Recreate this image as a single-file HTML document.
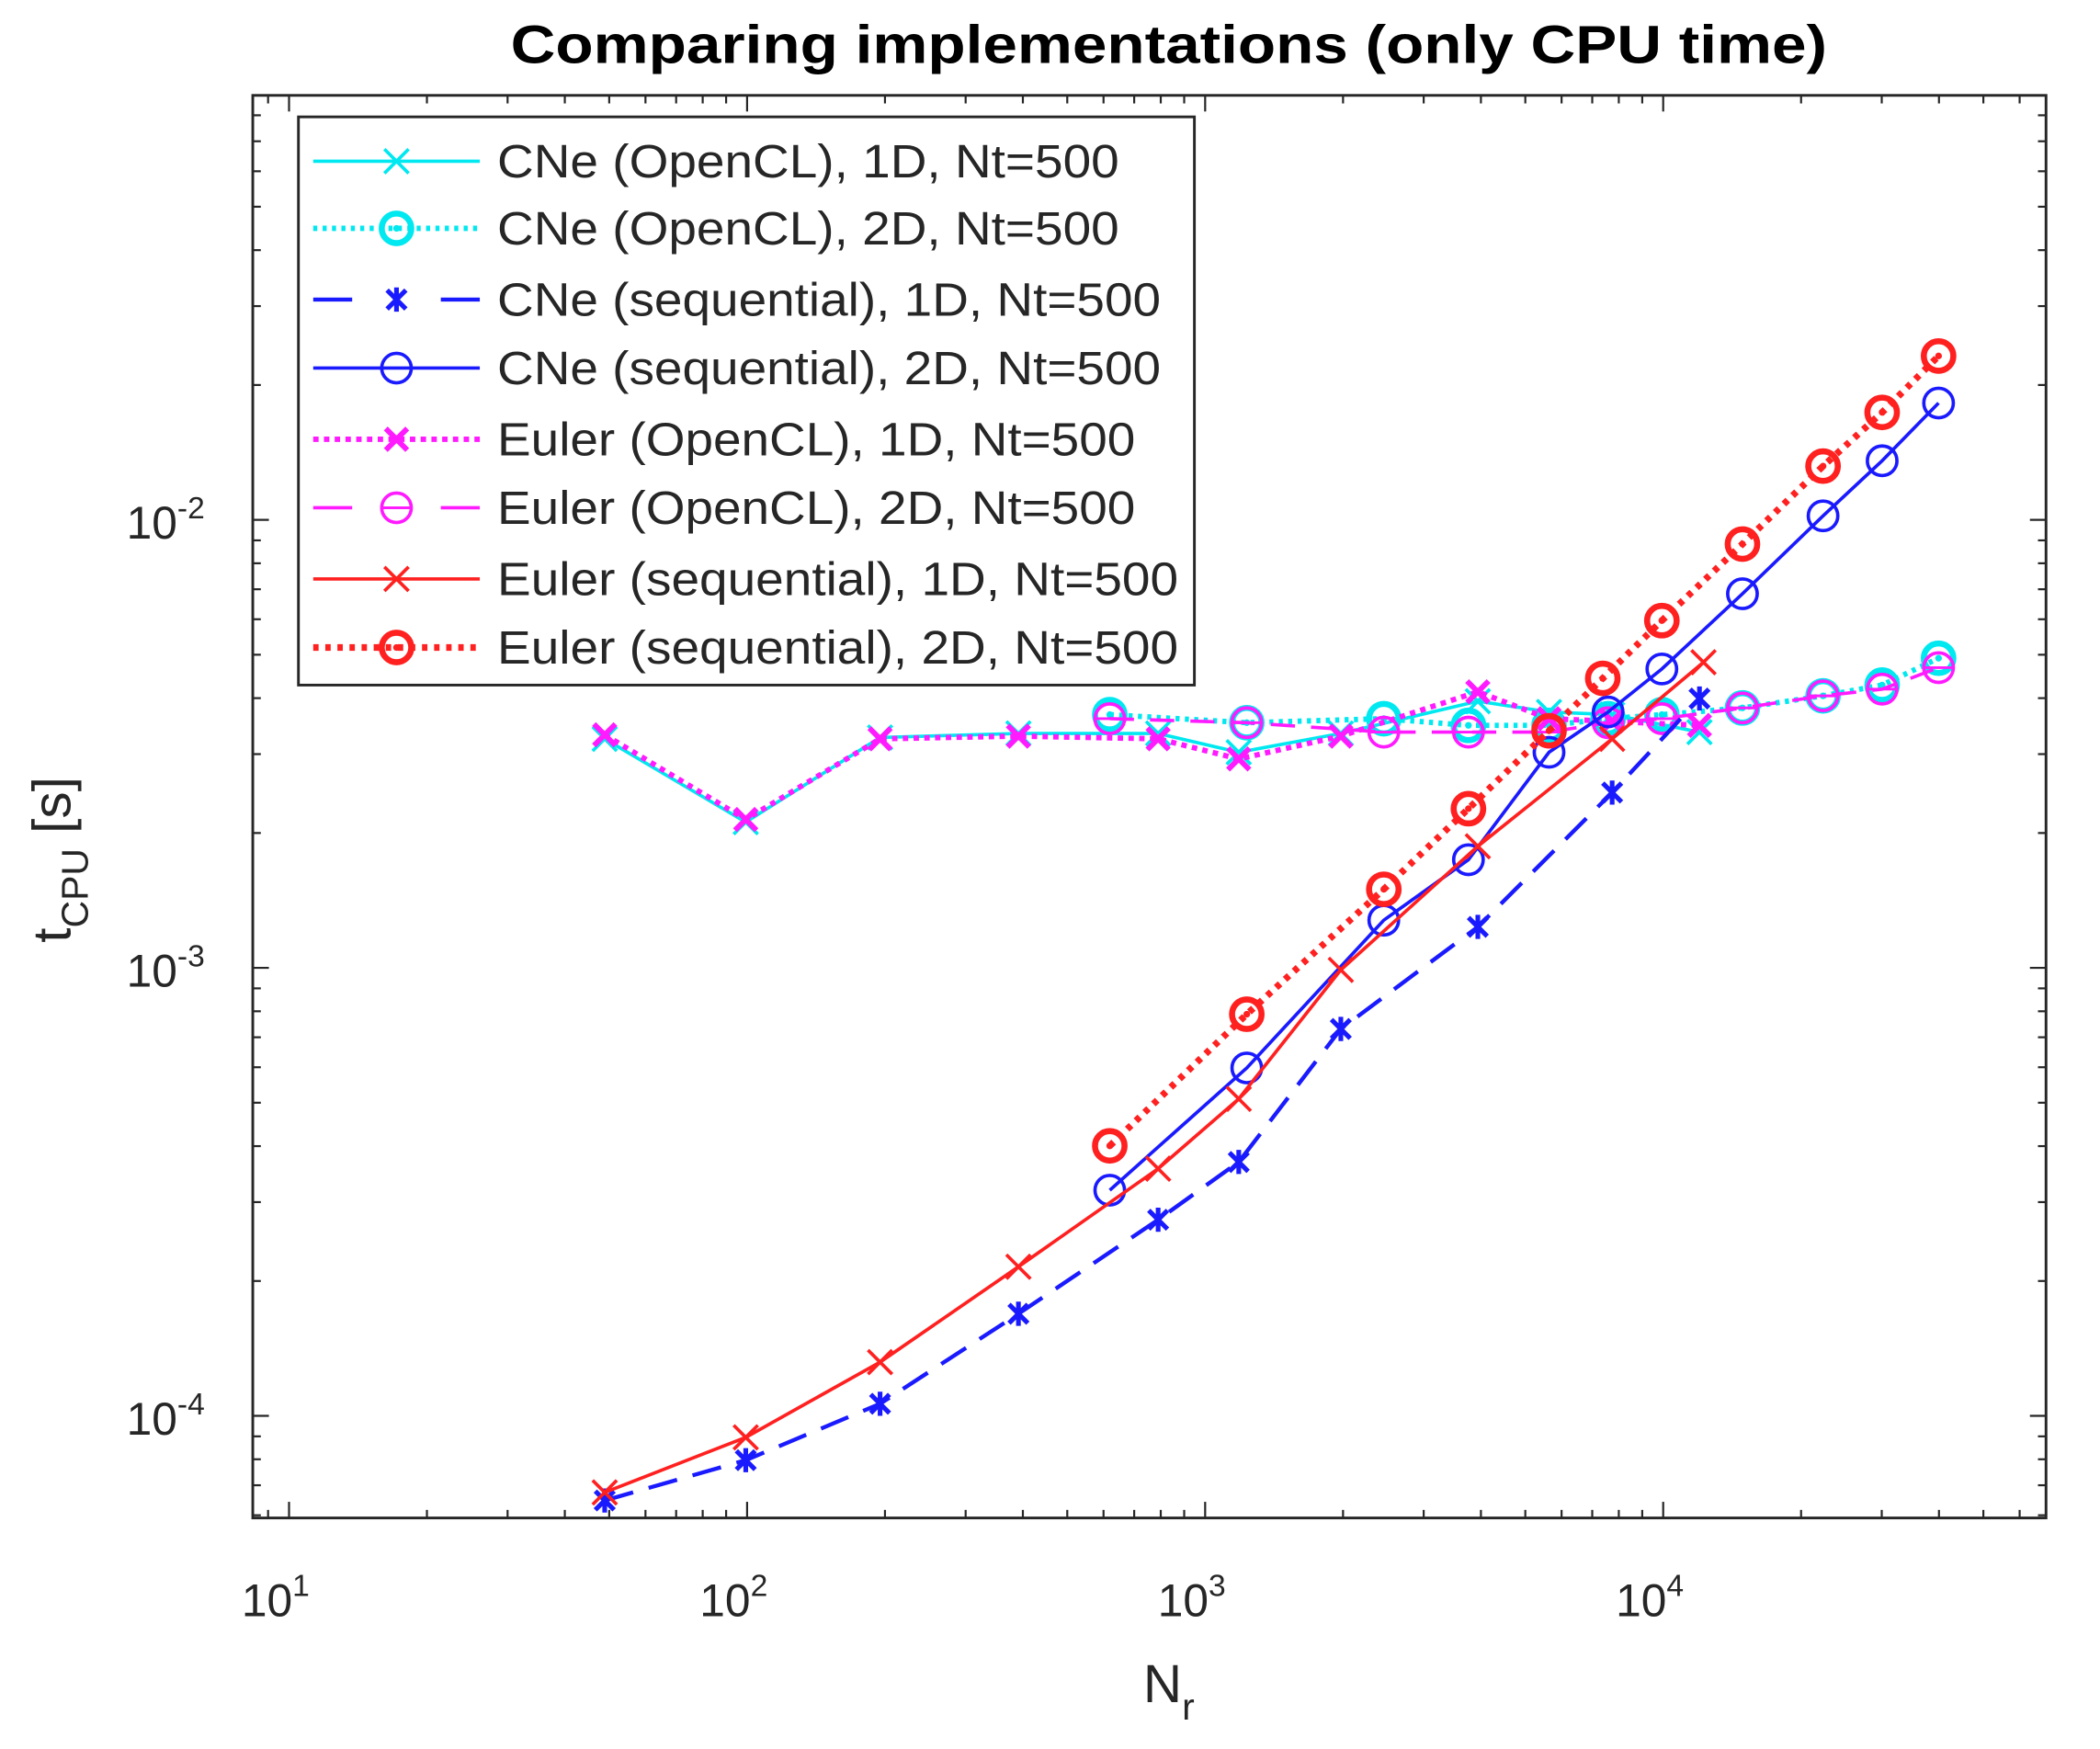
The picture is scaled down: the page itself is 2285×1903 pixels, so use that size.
<!DOCTYPE html>
<html><head><meta charset="utf-8"><style>
html,body{margin:0;padding:0;background:#fff;}
svg{display:block;font-family:"Liberation Sans",Arial,sans-serif;}
</style></head><body>
<svg id="s" width="2285" height="1903" viewBox="0 0 1563 1302" xmlns="http://www.w3.org/2000/svg">
<rect width="1563" height="1302" fill="#fff"/>
<text x="870" y="47" font-size="40" font-weight="bold" text-anchor="middle" textLength="980" lengthAdjust="spacingAndGlyphs" fill="#000">Comparing implementations (only CPU time)</text>
<rect x="188" y="71" width="1335" height="1059" fill="none" stroke="#262626" stroke-width="2"/>
<g id="ticks" stroke="#262626" stroke-width="1.5"></g>
<g id="labels" font-size="34" fill="#262626"></g>
<g id="series"></g>
<text x="870" y="1267" font-size="40" text-anchor="middle" fill="#262626">N<tspan font-size="28" dy="13">r</tspan></text>
<text transform="translate(52,640) rotate(-90)" font-size="40" text-anchor="middle" fill="#262626">t<tspan font-size="28" dy="13">CPU</tspan><tspan dy="-13"> [s]</tspan></text>
<g id="legend"></g>
</svg>
<script>
const NS="http://www.w3.org/2000/svg";
function el(p,t,a){const e=document.createElementNS(NS,t);for(const k in a)e.setAttribute(k,a[k]);p.appendChild(e);return e;}
const L=188,R=1523,T=71,B=1130;
const X=lx=>215+(lx-1)*341, Y=ly=>387-(ly+2)*333.5;
const tk=document.getElementById('ticks'), lb=document.getElementById('labels');
for(let d=0;d<=4;d++){for(let m=1;m<10;m++){const lx=d+Math.log10(m);const x=X(lx);if(x<L||x>R)continue;const len=m==1?12:6;
el(tk,'line',{x1:x,y1:B,x2:x,y2:B-len});el(tk,'line',{x1:x,y1:T,x2:x,y2:T+len});}}
for(let d=1;d<=4;d++){const t=el(lb,'text',{x:X(d)-10,y:1203,'text-anchor':'middle'});t.textContent='10';const s=el(t,'tspan',{'font-size':23,dy:-15});s.textContent=d;}
for(let d=-5;d<=-1;d++){for(let m=1;m<10;m++){const ly=d+Math.log10(m);const y=Y(ly);if(y<T||y>B)continue;const len=m==1?12:6;
el(tk,'line',{x1:L,y1:y,x2:L+len,y2:y});el(tk,'line',{x1:R,y1:y,x2:R-len,y2:y});}}
for(let d=-4;d<=-2;d++){const t=el(lb,'text',{x:94,y:Y(d)+14,'text-anchor':'start'});t.textContent='10';const s=el(t,'tspan',{'font-size':23,dy:-15});s.textContent=d;}
const C={cy:'#00e8f0',bl:'#1a1aff',mg:'#ff1aff',rd:'#ff2020'};
const S=[
{c:C.cy,d:'',w:2.5,m:'x',p:[[450,550],[555,612],[655,549],[758,546],[862,546],[922,560],[998,546],[1100,522],[1153,530],[1200,532],[1265,545]]},
{c:C.cy,d:'3 4',w:4,m:'oo',p:[[826,532],[928,538],[1030,535],[1093,540],[1153,540],[1197,535],[1237,532],[1297,527],[1357,518],[1401,510],[1443,490]]},
{c:C.mg,d:'4 4',w:4,m:'xx',p:[[450,547],[555,610],[655,550],[758,548],[862,550],[922,565],[998,548],[1100,515],[1153,535],[1200,537],[1265,540]]},
{c:C.mg,d:'18 12',w:2.5,m:'oh',p:[[826,535],[928,538],[1030,545],[1093,545],[1153,545],[1197,538],[1237,535],[1297,527],[1357,518],[1401,513],[1443,497]]},
{c:C.bl,d:'22 12',w:3,m:'*',p:[[450,1117],[555,1087],[655,1045],[758,978],[862,908],[922,865],[998,766],[1100,690],[1200,590],[1265,520]]},
{c:C.bl,d:'',w:2.5,m:'o',p:[[826,886],[928,795],[1030,685],[1093,640],[1153,560],[1197,530],[1237,498],[1297,442],[1357,384],[1401,343],[1443,300]]},
{c:C.rd,d:'',w:2.5,m:'x',p:[[450,1111],[555,1070],[655,1014],[758,943],[862,870],[922,818],[998,722],[1100,630],[1200,550],[1268,493]]},
{c:C.rd,d:'4 5',w:5,m:'oo',p:[[826,853],[928,755],[1030,662],[1093,602],[1153,544],[1193,505],[1237,462],[1297,405],[1357,347],[1401,307],[1443,265]]}
];
function marker(g,m,x,y,c){
 if(m=='x'||m=='xx'){const r=m=='xx'?8:9,w=m=='xx'?4:2.5;el(g,'path',{d:`M${x-r} ${y-r}L${x+r} ${y+r}M${x-r} ${y+r}L${x+r} ${y-r}`,stroke:c,'stroke-width':w,fill:'none'});}
 else if(m=='*'){el(g,'path',{d:`M${x-7} ${y-7}L${x+7} ${y+7}M${x-7} ${y+7}L${x+7} ${y-7}M${x} ${y-9}L${x} ${y+9}`,stroke:c,'stroke-width':3.5,fill:'none'});}
 else if(m=='o'){el(g,'circle',{cx:x,cy:y,r:11,stroke:c,'stroke-width':2.5,fill:'none'});}
 else if(m=='oh'){el(g,'circle',{cx:x,cy:y,r:11,stroke:c,'stroke-width':2.5,fill:'none'});el(g,'line',{x1:x-11,y1:y,x2:x+11,y2:y,stroke:c,'stroke-width':2});}
 else if(m=='oo'){el(g,'circle',{cx:x,cy:y,r:11,stroke:c,'stroke-width':4.5,fill:'none'});el(g,'circle',{cx:x,cy:y,r:2.5,fill:c});}
}
const sg=document.getElementById('series');
for(const s of S){el(sg,'polyline',{points:s.p.map(q=>q.join(',')).join(' '),fill:'none',stroke:s.c,'stroke-width':s.w,'stroke-dasharray':s.d||'none'});
 for(const q of s.p)marker(sg,s.m,q[0],q[1],s.c);}
const lg=document.getElementById('legend');
el(lg,'rect',{x:222,y:87,width:667,height:423,fill:'#fff',stroke:'#262626','stroke-width':2});
const LI=[[0,'CNe (OpenCL), 1D, Nt=500',463],[1,'CNe (OpenCL), 2D, Nt=500',463],[4,'CNe (sequential), 1D, Nt=500',494],[5,'CNe (sequential), 2D, Nt=500',494],[2,'Euler (OpenCL), 1D, Nt=500',475],[3,'Euler (OpenCL), 2D, Nt=500',475],[6,'Euler (sequential), 1D, Nt=500',507],[7,'Euler (sequential), 2D, Nt=500',507]];
const ry=[120,170,223,274,327,378,431,482];
LI.forEach((it,i)=>{const s=S[it[0]];const y=ry[i];
 if(s.d=='22 12'||s.d=='18 12'){
  el(lg,'line',{x1:233,y1:y,x2:262,y2:y,stroke:s.c,'stroke-width':s.w});
  el(lg,'line',{x1:328,y1:y,x2:357,y2:y,stroke:s.c,'stroke-width':s.w});
 } else el(lg,'line',{x1:233,y1:y,x2:357,y2:y,stroke:s.c,'stroke-width':s.w,'stroke-dasharray':s.d||'none'});
 marker(lg,s.m,295,y,s.c);
 const t=el(lg,'text',{x:370,y:y+12,'font-size':35,fill:'#262626',textLength:it[2],lengthAdjust:'spacingAndGlyphs'});t.textContent=it[1];});
</script>
</body></html>
